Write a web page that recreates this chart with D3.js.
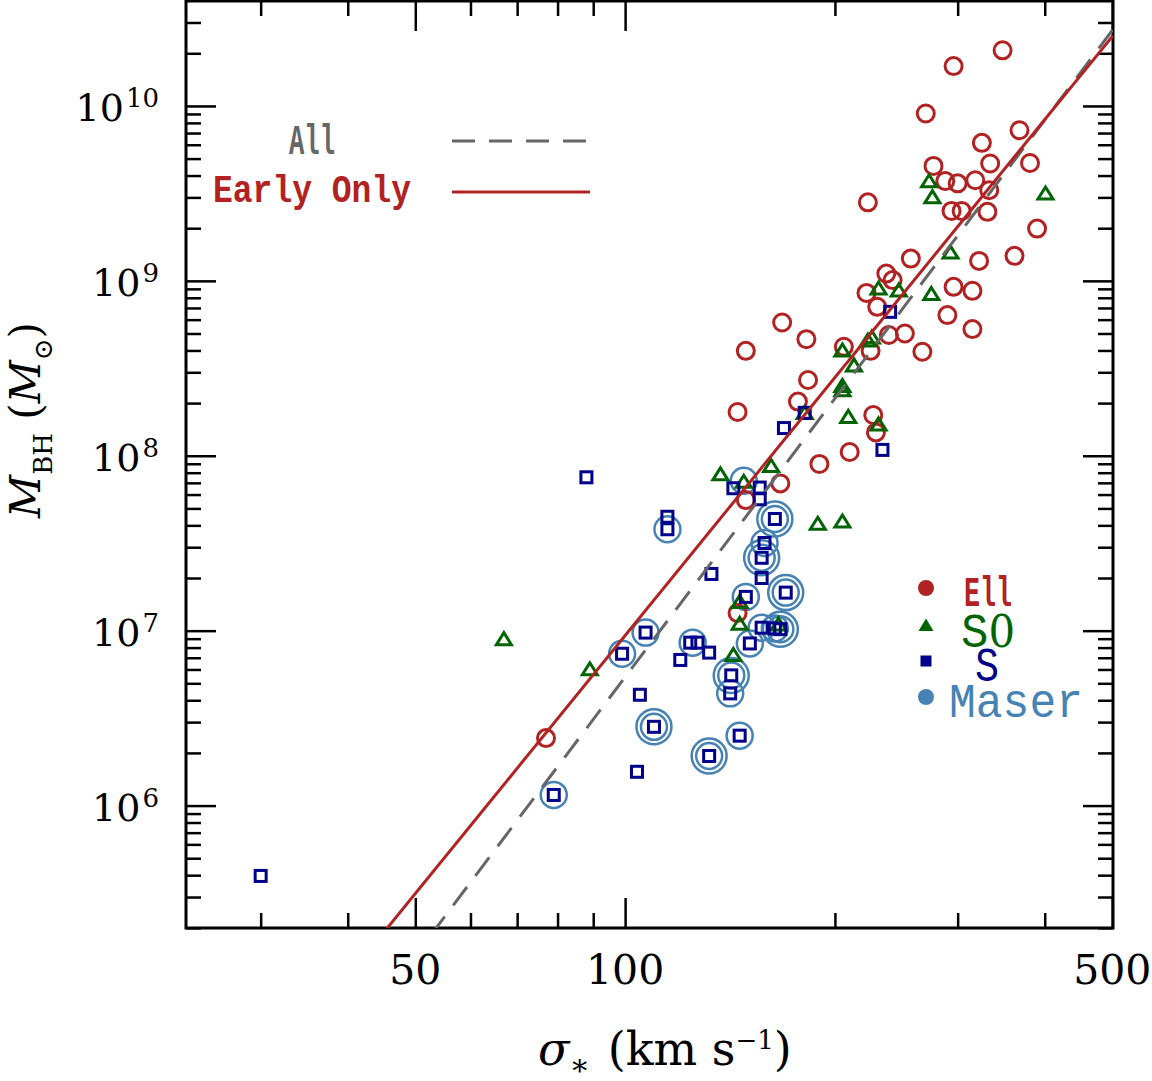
<!DOCTYPE html>
<html>
<head>
<meta charset="utf-8">
<script src="https://cdn.jsdelivr.net/npm/d3@7"></script>
<style>
  body { margin: 0; background: #fff; }
  svg { display: block; }
</style>
</head>
<body>
<div id="chart"></div>
<script>
var width = 1152;
var height = 1081;

// elliptical galaxies: sigma (km/s), M_BH (M_sun)
var ellSigma = [348, 296, 270, 368, 325, 334, 381, 277, 288, 300, 318, 333, 223, 294, 304, 331,
  390, 362, 322, 257, 237, 242, 222, 296, 315, 230, 290, 168, 315, 182, 149, 206, 225, 239, 252,
  267, 183, 177, 145, 227, 229, 210, 190, 167, 149, 145, 77];
var ellMass = [2.08e10, 1.69e10, 9.05e9, 7.26e9, 6.15e9, 4.69e9, 4.72e9, 4.54e9, 3.72e9, 3.61e9,
  3.76e9, 3.30e9, 2.81e9, 2.51e9, 2.51e9, 2.48e9, 1.99e9, 1.39e9, 1.30e9, 1.34e9, 1.10e9, 1.01e9,
  8.53e8, 9.24e8, 8.77e8, 7.10e8, 6.37e8, 5.78e8, 5.30e8, 4.64e8, 3.98e8, 4.20e8, 3.98e8, 4.90e8,
  5.00e8, 3.93e8, 2.71e8, 2.04e8, 1.78e8, 1.71e8, 1.36e8, 1.05e8, 8.98e7, 6.95e7, 5.58e7, 1.26e7,
  2.43e6];

// lenticular galaxies
var s0Sigma = [273, 276, 401, 293, 231, 247, 275, 205, 223, 226, 213, 205, 205, 181, 209, 231,
  162, 137, 148, 189, 205, 146, 146, 166, 143, 67, 89];
var s0Mass = [3.76e9, 3.05e9, 3.20e9, 1.47e9, 9.16e8, 8.93e8, 8.53e8, 4.05e8, 4.62e8, 4.81e8,
  3.33e8, 2.54e8, 2.40e8, 1.78e8, 1.69e8, 1.53e8, 8.86e7, 7.93e7, 7.2e7, 4.14e7, 4.26e7, 1.48e7,
  1.11e7, 1.10e7, 7.36e6, 9.06e6, 6.10e6];

// spiral galaxies
var sSigma = [240, 181, 169, 234, 88, 143, 156, 156, 115, 115, 164, 158.5, 157, 157, 133, 149,
  170, 157, 164, 167, 151, 107, 99, 124, 127, 120, 132, 142, 141.5, 105, 110, 146, 132, 104, 79, 30];
var sMass = [6.65e8, 1.76e8, 1.44e8, 1.08e8, 7.53e7, 6.52e7, 6.58e7, 5.64e7, 4.48e7, 3.80e7,
  4.35e7, 3.17e7, 2.61e7, 2.00e7, 2.11e7, 1.56e7, 1.65e7, 1.04e7, 1.03e7, 1.02e7, 8.45e6, 9.75e6,
  7.38e6, 8.54e6, 8.54e6, 6.80e6, 7.49e6, 5.55e6, 4.38e6, 4.30e6, 2.82e6, 2.51e6, 1.92e6, 1.56e6,
  1.15e6, 3.96e5];

// maser galaxies (rings drawn around the points), rings = 1 or 2
var maserSigma = [148, 115, 164, 158.5, 157, 149, 170, 157, 164, 167, 151, 107, 99, 125, 142,
  141.5, 110, 146, 132, 79];
var maserMass = [7.2e7, 3.80e7, 4.35e7, 3.17e7, 2.61e7, 1.56e7, 1.65e7, 1.04e7, 1.03e7, 1.02e7,
  8.45e6, 9.75e6, 7.38e6, 8.54e6, 5.55e6, 4.38e6, 2.82e6, 2.51e6, 1.92e6, 1.15e6];
var maserRings = [1, 1, 2, 1, 2, 1, 2, 1, 1, 2, 1, 1, 1, 1, 2, 1, 2, 1, 2, 1];

// fits: log M = a + b log(sigma / 200)
var fitNames = ["All", "Early Only"];
var fitA = [8.327, 8.447];
var fitB = [5.29, 4.9];

var xMajor = [50, 100, 500];
var xMinor = [30, 40, 60, 70, 80, 90, 200, 300, 400];
var yMajorExp = [6, 7, 8, 9, 10];

var col = {ell: "#b22222", s0: "#006400", s: "#00008b", maser: "#4682b4", all: "#666666"};

var pl = 186, pr = 1113, pt = 1, pb = 928;

var x = d3.scaleLog().domain([Math.pow(10, 1.37), Math.pow(10, 2.7)]).range([pl, pr]);
var y = d3.scaleLog().domain([Math.pow(10, 5.3), Math.pow(10, 10.6)]).range([pb, pt]);

var yMajor = yMajorExp.map(function(e){ return Math.pow(10, e); });
var yMinor = [];
for (var e = 5; e <= 10; e++) {
  for (var m = 2; m <= 9; m++) {
    var v = m * Math.pow(10, e);
    if (v > y.domain()[0] && v < y.domain()[1]) yMinor.push(v);
  }
}

var svg = d3.select("#chart").append("svg")
  .attr("width", width)
  .attr("height", height)
  .attr("viewBox", "0 0 " + width + " " + height);

svg.append("defs").append("clipPath").attr("id", "plotclip")
  .append("rect").attr("x", pl).attr("y", pt).attr("width", pr - pl).attr("height", pb - pt);

// ticks on all four sides, pointing inward
var tickGroups = [
  [d3.axisBottom(x), "translate(0," + pb + ")", xMajor, xMinor],
  [d3.axisTop(x), "translate(0," + pt + ")", xMajor, xMinor],
  [d3.axisLeft(y), "translate(" + pl + ",0)", yMajor, yMinor],
  [d3.axisRight(y), "translate(" + pr + ",0)", yMajor, yMinor]
];
tickGroups.forEach(function(t){
  [[t[2], 30], [t[3], 15]].forEach(function(set){
    var ax = t[0].tickValues(set[0]).tickSize(-set[1]).tickFormat("");
    svg.append("g").attr("transform", t[1]).call(ax)
      .call(function(g){ g.select(".domain").remove(); })
      .selectAll("line").attr("stroke", "#000").attr("stroke-width", 2.5);
  });
});

svg.append("rect")
  .attr("x", pl).attr("y", pt).attr("width", pr - pl).attr("height", pb - pt)
  .attr("fill", "none").attr("stroke", "#000").attr("stroke-width", 3);

// tick labels
svg.append("g").selectAll("text").data(xMajor).enter().append("text")
  .attr("x", function(d){ return x(d); })
  .attr("y", 984)
  .attr("text-anchor", "middle")
  .style("font-family", "'DejaVu Serif', serif")
  .style("font-size", "41px")
  .text(function(d){ return d; });

var yl = svg.append("g").selectAll("text").data(yMajorExp).enter().append("text")
  .attr("x", 159)
  .attr("y", function(d){ return y(Math.pow(10, d)) + 15; })
  .attr("text-anchor", "end")
  .style("font-family", "'DejaVu Serif', serif")
  .style("font-size", "38px");
yl.append("tspan").text("10");
yl.append("tspan").attr("dy", -14).attr("dx", 2).style("font-size", "26px").text(function(d){ return d; });

// axis titles
var xt = svg.append("text")
  .attr("x", 538).attr("y", 1065)
  .style("font-family", "'DejaVu Serif', serif")
  .style("font-size", "46px");
xt.append("tspan").style("font-style", "italic").text("σ");
xt.append("tspan").attr("dy", 10).style("font-size", "30px").text("∗");
xt.append("tspan").attr("dy", -10).attr("dx", 18).text("(km s");
xt.append("tspan").attr("dy", -16).style("font-size", "26px").text("−1");
xt.append("tspan").attr("dy", 16).text(")");

var yt = svg.append("text")
  .attr("transform", "translate(40,420) rotate(-90)")
  .attr("text-anchor", "middle")
  .style("font-family", "'DejaVu Serif', serif")
  .style("font-size", "42px");
yt.append("tspan").style("font-style", "italic").text("M");
yt.append("tspan").attr("dy", 12).style("font-size", "26px").text("BH");
yt.append("tspan").attr("dy", -12).text("  (");
yt.append("tspan").style("font-style", "italic").text("M");
yt.append("tspan").attr("dy", 12).style("font-size", "26px").text("⊙");
yt.append("tspan").attr("dy", -12).text(")");

var plot = svg.append("g").attr("clip-path", "url(#plotclip)");

// maser rings
var masers = maserSigma.map(function(s, i){
  return {s: s, m: maserMass[i], r: maserRings[i]};
});
masers.forEach(function(d){
  var radii = d.r === 2 ? [13, 17.5] : [13];
  radii.forEach(function(r){
    plot.append("circle")
      .attr("cx", x(d.s)).attr("cy", y(d.m)).attr("r", r)
      .attr("fill", "none").attr("stroke", col.maser).attr("stroke-width", 2.5);
  });
});

// ellipticals
plot.append("g").selectAll("circle").data(d3.zip(ellSigma, ellMass)).enter().append("circle")
  .attr("cx", function(d){ return x(d[0]); })
  .attr("cy", function(d){ return y(d[1]); })
  .attr("r", 8.5)
  .attr("fill", "none").attr("stroke", col.ell).attr("stroke-width", 3);

// lenticulars
var tri = "M0,-5.5L7.5,6.5L-7.5,6.5Z";
plot.append("g").selectAll("path").data(d3.zip(s0Sigma, s0Mass)).enter().append("path")
  .attr("d", tri)
  .attr("transform", function(d){ return "translate(" + x(d[0]) + "," + y(d[1]) + ")"; })
  .attr("fill", "none").attr("stroke", col.s0).attr("stroke-width", 3);

// spirals
plot.append("g").selectAll("rect").data(d3.zip(sSigma, sMass)).enter().append("rect")
  .attr("x", function(d){ return x(d[0]) - 5.5; })
  .attr("y", function(d){ return y(d[1]) - 5.5; })
  .attr("width", 11).attr("height", 11)
  .attr("fill", "none").attr("stroke", col.s).attr("stroke-width", 3);

// fit lines
var fitLine = d3.line()
  .x(function(d){ return x(d[0]); })
  .y(function(d){ return y(d[1]); });
var fitStyle = [{stroke: col.all, dash: "23,14"}, {stroke: col.ell, dash: null}];
fitNames.forEach(function(name, i){
  var pts = x.domain().map(function(s){
    return [s, Math.pow(10, fitA[i] + fitB[i] * Math.log10(s / 200))];
  });
  plot.append("path")
    .attr("d", fitLine(pts))
    .attr("fill", "none")
    .attr("stroke", fitStyle[i].stroke)
    .attr("stroke-width", 3)
    .attr("stroke-dasharray", fitStyle[i].dash);
});

// legend for fits
var fitLegY = [141, 192];
var fitTextY = [154, 202];
var fitTextW = [46, 198];
fitNames.forEach(function(name, i){
  svg.append("text")
    .attr("x", 312).attr("y", fitTextY[i])
    .attr("text-anchor", "middle")
    .attr("textLength", fitTextW[i])
    .attr("lengthAdjust", "spacingAndGlyphs")
    .style("font-family", "'Liberation Mono', monospace")
    .style("font-weight", "bold")
    .style("font-size", i === 0 ? "42px" : "38px")
    .attr("fill", fitStyle[i].stroke)
    .text(name);
  svg.append("line")
    .attr("x1", 452).attr("x2", 590)
    .attr("y1", fitLegY[i]).attr("y2", fitLegY[i])
    .attr("stroke", fitStyle[i].stroke).attr("stroke-width", 3)
    .attr("stroke-dasharray", fitStyle[i].dash);
});

// legend for galaxy types
var typeNames = ["Ell", "S0", "S", "Maser"];
var typeColors = [col.ell, col.s0, col.s, col.maser];
var typeSymY = [588, 625, 661, 697];
var typeTextX = [964, 961, 975, 949];
var typeTextW = [48, 54, 24, 134];
var typeTextY = [606, 647, 681, 717];
var lg = svg.append("g");
typeNames.forEach(function(name, i){
  var cx = 926, cy = typeSymY[i];
  if (name === "S0") {
    lg.append("path").attr("d", "M" + cx + "," + (cy - 6.5) + "L" + (cx + 7.5) + "," + (cy + 6) + "L" + (cx - 7.5) + "," + (cy + 6) + "Z")
      .attr("fill", typeColors[i]);
  } else if (name === "S") {
    lg.append("rect").attr("x", cx - 5.5).attr("y", cy - 5.5).attr("width", 11).attr("height", 11)
      .attr("fill", typeColors[i]);
  } else {
    lg.append("circle").attr("cx", cx).attr("cy", cy).attr("r", 8).attr("fill", typeColors[i]);
  }
  var t = lg.append("text")
    .attr("x", typeTextX[i]).attr("y", typeTextY[i])
    .attr("textLength", typeTextW[i])
    .attr("lengthAdjust", "spacingAndGlyphs")
    .style("font-family", "'Liberation Mono', monospace")
    .style("font-weight", name === "Ell" ? "bold" : "normal")
    .style("font-size", name === "Ell" ? "42px" : "48px")
    .attr("fill", typeColors[i]);
  if (name === "S0") {
    t.append("tspan").text("S");
    t.append("tspan").style("font-family", "'DejaVu Serif', serif").style("font-size", "44px").text("0");
  } else {
    t.text(name);
  }
});
</script>
</body>
</html>
